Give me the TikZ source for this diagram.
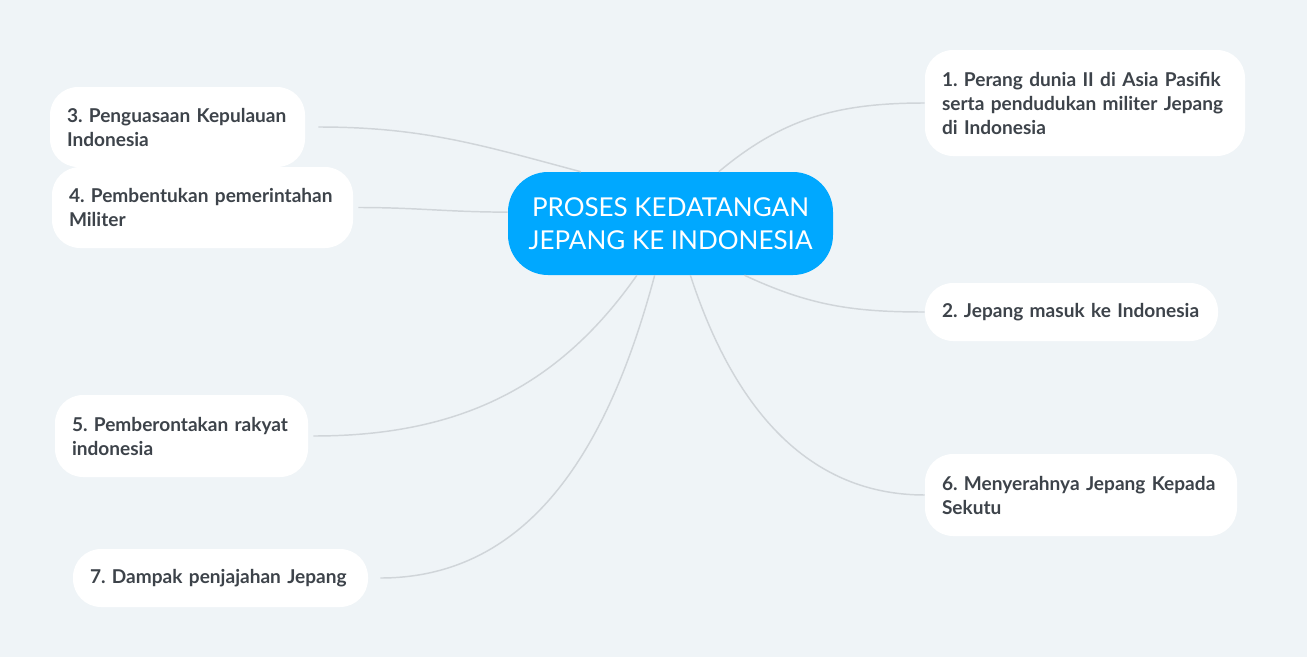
\documentclass[tikz,border=0pt]{standalone}
\usepackage{fontspec}
\setmainfont{Lato}
\usepackage{xcolor}
\usepackage{tikz}
\frenchspacing
\hyphenpenalty=10000

\definecolor{bg}{HTML}{EFF4F7}
\definecolor{topicblue}{HTML}{00A8FF}
\definecolor{leaftext}{HTML}{3D434A}
\definecolor{branch}{HTML}{D0D5D9}

\tikzset{
    topic/.style={rectangle, rounded corners=30pt, fill=topicblue, text=white, align=center,
        minimum width=243.75pt, minimum height=77.25pt, inner sep=0pt,
        font=\fontsize{19.5}{24.75}\selectfont},
    leaf/.style={rectangle, rounded corners=21pt, fill=white, text=leaftext, align=left,
        inner xsep=12.75pt, inner ysep=0pt, font=\bfseries\fontsize{14.3}{18}\selectfont},
    link/.style={draw=branch, line width=1.1pt}
}

\begin{document}
\begin{tikzpicture}[x=0.75pt, y=-0.75pt]
    		\fill[bg] (0,0) rectangle (1307,657);
    		\useasboundingbox (0,0) rectangle (1307,657);
    		
    		\node (c)[topic] at (670.5,223.5) {PROSES KEDATANGAN\\JEPANG KE INDONESIA};
    		
        	\node (n1)[leaf, text width=214.5pt, minimum height=79.5pt] at (1085,103) {1. Perang dunia II di Asia Pasifik\\serta pendudukan militer Jepang\\di Indonesia};
        	\node (n2)[leaf, text width=194.25pt, minimum height=43.5pt] at (1071.5,312) {2. Jepang masuk ke Indonesia};
        	\node (n3)[leaf, text width=165.75pt, minimum height=60pt] at (177.5,127) {3. Penguasaan Kepulauan\\Indonesia};
        	\node (n4)[leaf, text width=200.25pt, minimum height=60.75pt] at (202.5,207.5) {4. Pembentukan pemerintahan\\Militer};
        	\node (n5)[leaf, text width=164.25pt, minimum height=61.5pt] at (181.5,436) {5. Pemberontakan rakyat\\indonesia};
        	\node (n6)[leaf, text width=208.5pt, minimum height=61.5pt] at (1081,495) {6. Menyerahnya Jepang Kepada\\Sekutu};
        	\node (n7)[leaf, text width=195.75pt, minimum height=43.5pt] at (220.5,578) {7. Dampak penjajahan Jepang};
        	
        	\coordinate (e3) at ([xshift=9.75pt]n3.east);
        	\coordinate (e4) at ([xshift=3.75pt]n4.east);
        	\coordinate (e5) at ([xshift=3.75pt]n5.east);
        	\coordinate (e7) at ([xshift=9pt]n7.east);
        	
        	\draw[link] (c.47) to[out=40, in=180] (n1.west);
        	\draw[link] (c.-35) to[out=-25, in=180] (n2.west);
        	\draw[link] (c.150) to[out=165, in=0] (e3);
        	\draw[link] (c.176) to[out=180, in=0] (e4);
        	\draw[link] (c.237) to[out=235, in=0] (e5);
        	\draw[link] (c.-69) to[out=-72, in=180] (n6.west);
        	\draw[link] (c.253) to[out=255, in=0] (e7);
    	\end{tikzpicture}
\end{document}
